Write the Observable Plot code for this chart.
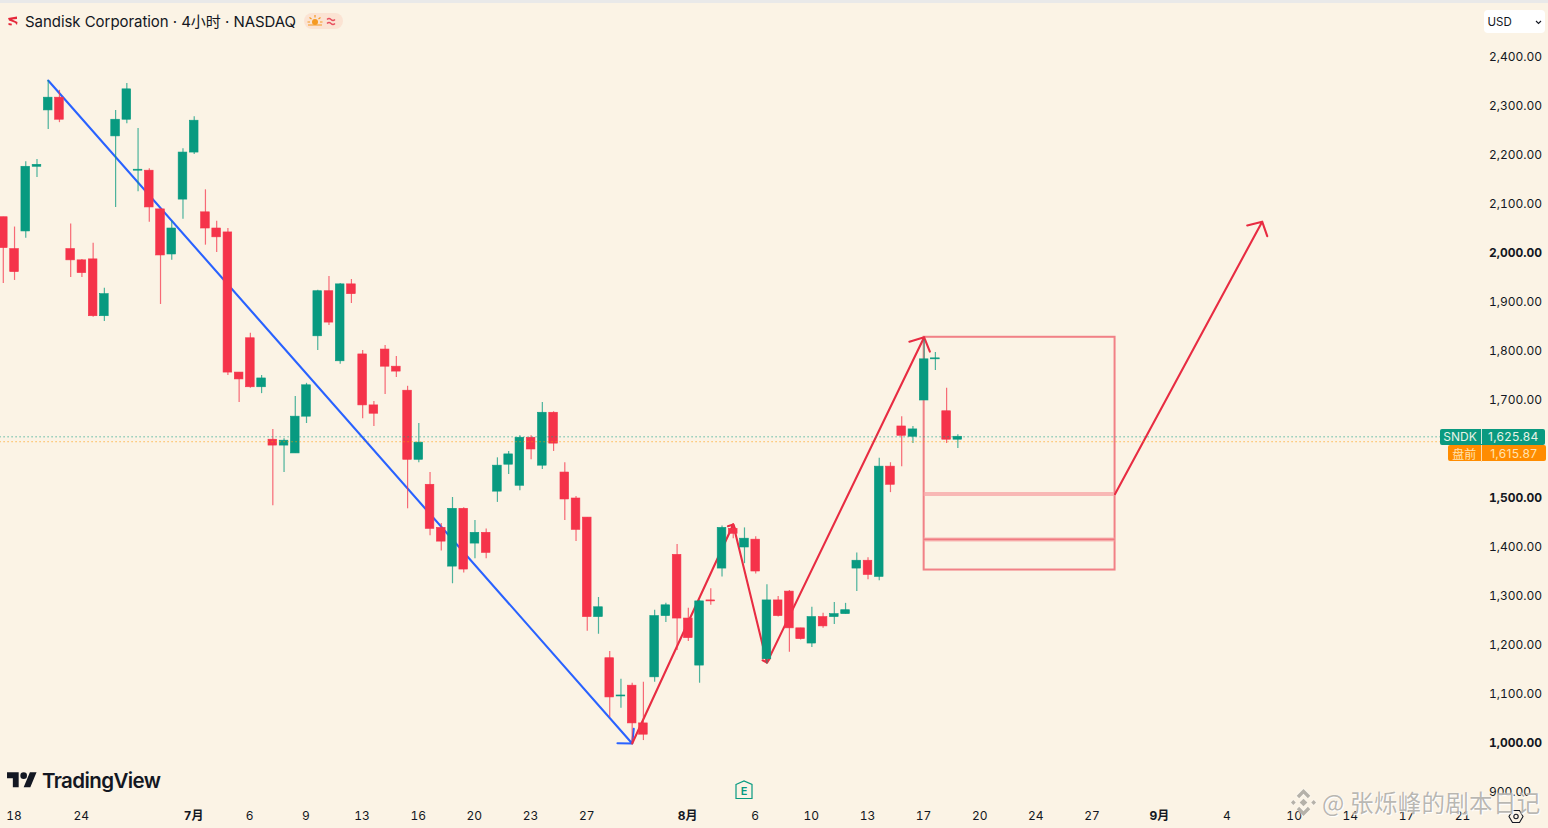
<!DOCTYPE html>
<html>
<head>
<meta charset="utf-8">
<script src="https://cdn.jsdelivr.net/npm/d3@7"></script>
<script src="https://cdn.jsdelivr.net/npm/@observablehq/plot@0.6"></script>
<style>
html,body{margin:0;padding:0;background:#fbf3e5;overflow:hidden;width:1548px;height:828px}
#wrap{position:relative;width:1548px;height:828px;font-family:Inter,"Noto Sans CJK SC",sans-serif;color:#131722}
#wrap>*{position:absolute}
.tag{display:flex;align-items:center;font-size:12px;height:16px;border-radius:2px;box-sizing:border-box}
.tag span{display:block;text-align:center}
</style>
</head>
<body>
<div id="wrap"></div>
<script>
const opens = [2074,2009,2045,2177,2292,2318,2009,1986,1988,1872,2239,2273,2169,2169,2090,1998,2110,2206,2084,2051,2043,1757,1827,1727,1620,1608,1592,1667,1831,1923,1780,1937,1794,1690,1804,1769,1720,1579,1528,1440,1361,1479,1408,1430,1514,1569,1526,1624,1567,1675,1553,1500,1461,1258,1174,1096,1118,1041,1135,1260,1385,1255,1159,1292,1357,1438,1400,1416,1172,1292,1310,1235,1204,1258,1258,1264,1357,1373,1340,1565,1647,1626,1700,1784,1678,1620];
const closes = [2011,1962,2177,2181,2318,2273,1986,1960,1872,1917,2273,2335,2171,2094,1996,2051,2206,2271,2051,2033,1757,1743,1727,1745,1608,1618,1667,1731,1923,1859,1937,1917,1690,1673,1769,1759,1579,1614,1438,1412,1479,1355,1430,1389,1567,1590,1624,1600,1675,1612,1498,1436,1258,1278,1094,1098,1041,1018,1260,1282,1255,1215,1290,1290,1440,1428,1418,1351,1292,1260,1235,1213,1258,1239,1264,1272,1373,1344,1565,1528,1628,1641,1784,1786,1620,1626];
const highs = [2074,2054,2187,2192,2353,2333,2060,1988,2021,1929,2292,2347,2255,2173,2092,2066,2214,2279,2130,2066,2051,1757,1837,1751,1641,1622,1708,1735,1925,1953,1939,1947,1802,1698,1812,1790,1729,1653,1553,1449,1502,1481,1455,1438,1583,1596,1628,1628,1696,1677,1573,1504,1461,1298,1188,1131,1123,1125,1272,1286,1406,1276,1292,1316,1444,1449,1440,1422,1324,1300,1312,1235,1278,1266,1288,1286,1389,1379,1582,1573,1667,1647,1823,1798,1725,1630];
const lows = [1939,1945,2031,2155,2253,2267,1951,1951,1870,1861,2094,2265,2126,2064,1896,1986,2070,2202,2017,2002,1751,1696,1725,1714,1485,1553,1592,1653,1802,1853,1774,1898,1663,1647,1712,1747,1479,1573,1424,1393,1326,1348,1377,1377,1492,1549,1516,1579,1559,1596,1455,1412,1229,1223,1053,1072,1000,1006,1125,1247,1190,1208,1123,1282,1340,1418,1367,1346,1163,1258,1186,1211,1196,1235,1243,1264,1310,1334,1332,1512,1565,1612,1700,1761,1612,1602];

const priceTicks = [2400,2300,2200,2100,1900,1800,1700,1400,1300,1200,1100,900];
const priceTicksBold = [2000,1500,1000];
const dayTickBars = [1,7,22,27,32,37,42,47,52,67,72,77,82,87,92,97,109,115,120,125,130];
const dayTickNames = ["18","24","6","9","13","16","20","23","27","6","10","13","17","20","24","27","4","10","14","17","21"];
const monthTickBars = [17,61,103];
const monthTickNames = ["7月","8月","9月"];

const blueArrow = {x1:4,y1:2353,x2:56,y2:1000};
const redArrows = [
  {x1:56,y1:1000,x2:65,y2:1447,head:4},
  {x1:65,y1:1447,x2:68,y2:1165,head:3.5},
  {x1:68,y1:1165,x2:82,y2:1829,head:11},
  {x1:99,y1:1509,x2:112.1,y2:2065,head:11}
];
const zone = {x1:82,x2:99,top:1829,bottom:1354};
const zoneLines = [1509,1416.5];
const lastPrice = 1625.84, prePrice = 1615.87;
const priceLineEnd = 128;

const candles = opens.map((o,i)=>({i,o,c:closes[i],h:highs[i],l:lows[i],up:closes[i]>=o}));
const GREEN="#089a80", RED="#f5334a", ZONE="#ee5a66";
const col = d=>d.up?GREEN:RED;
const dayLabel = new Map(dayTickBars.map((b,k)=>[b,dayTickNames[k]]));
const monthLabel = new Map(monthTickBars.map((b,k)=>[b,monthTickNames[k]]));
const fmt = d3.format(",.2f");

const chart = Plot.plot({
  width:1548,height:828,
  marginLeft:0,marginTop:0,marginRight:59.5,marginBottom:20,
  style:{background:"transparent",fontFamily:'Inter,"Noto Sans CJK SC",sans-serif',fontSize:"12px",color:"#131722"},
  x:{domain:[0,85],range:[2.8,957.35],label:null},
  y:{domain:[1000,2400],range:[743,57],label:null},
  marks:[
    Plot.rect([zone],{x1:"x1",x2:"x2",y1:"bottom",y2:"top",fill:"none",stroke:ZONE,strokeWidth:2,strokeOpacity:.75}),
    Plot.ruleY(zoneLines,{x1:zone.x1,x2:zone.x2,stroke:"#f8a9a9",strokeWidth:4,strokeOpacity:.8}),
    Plot.ruleY([zoneLines[1]],{x1:zone.x1,x2:zone.x2,stroke:"#ee6a74",strokeWidth:1.8,strokeOpacity:.8}),
    Plot.arrow([blueArrow],{x1:"x1",y1:"y1",x2:"x2",y2:"y2",stroke:"#2962ff",strokeWidth:2.1,headLength:10.5,headAngle:95,inset:0}),
    ...redArrows.map(a=>Plot.arrow([a],{x1:"x1",y1:"y1",x2:"x2",y2:"y2",stroke:"#e82c42",strokeWidth:2.1,headLength:a.head,headAngle:95,inset:0})),
    Plot.ruleX(candles,{x:"i",y1:"l",y2:"h",stroke:col,strokeWidth:1.2,strokeOpacity:.72}),
    Plot.rect(candles,{x1:d=>d.i-.385,x2:d=>d.i+.385,y1:d=>Math.min(d.o,d.c),y2:d=>Math.max(d.o,d.c),fill:col,stroke:col,strokeWidth:.6}),
    Plot.ruleY([lastPrice],{x1:-1,x2:priceLineEnd,stroke:GREEN,strokeWidth:1,strokeDasharray:"1,3"}),
    Plot.ruleY([prePrice],{x1:-1,x2:priceLineEnd,stroke:"#ff9800",strokeWidth:1,strokeDasharray:"1,3"}),
    Plot.axisY(priceTicks,{anchor:"right",tickSize:0,tickPadding:0,tickFormat:fmt,label:null,dy:-.5,fontSize:12,fill:"#131722"}),
    Plot.axisY(priceTicksBold,{anchor:"right",tickSize:0,tickPadding:0,tickFormat:fmt,label:null,dy:-.5,fontSize:12,fontWeight:700,fill:"#131722"}),
    Plot.axisX(dayTickBars,{anchor:"bottom",tickSize:0,tickPadding:3,dx:-.6,tickFormat:d=>dayLabel.get(d),label:null,fontSize:12,fill:"#131722"}),
    Plot.axisX(monthTickBars,{anchor:"bottom",tickSize:0,tickPadding:3,dx:-.6,tickFormat:d=>monthLabel.get(d),label:null,fontSize:12,fontWeight:700,fill:"#131722"})
  ]
});
chart.style.left="0";chart.style.top="0";
const wrap=document.getElementById("wrap");
wrap.appendChild(chart);

wrap.insertAdjacentHTML("beforeend",`
<div style="left:0;top:0;width:1548px;height:3px;background:#e9e9e9"></div>
<svg style="left:7px;top:15px" width="12" height="12" viewBox="0 0 12 12"><path d="M1 3 L10 1.5 L10 4 L5 4.5 L10.5 7 L10 10 L8 7.8 L2 5.5Z M1.5 8 L5 8.8 L4.5 10.5 L1.5 10Z" fill="#e5283a"/></svg>
<div style="left:25px;top:12.5px;font-size:15px;line-height:18px;white-space:nowrap;letter-spacing:-.05px">Sandisk Corporation · 4小时 · NASDAQ</div>
<div style="left:304px;top:13px;width:39px;height:16px;border-radius:8px;background:#fbe3d3"></div>
<svg style="left:307px;top:14px" width="34" height="14" viewBox="0 0 34 14"><circle cx="8" cy="8" r="3" fill="#f59a23"/><path d="M1 11H15M8 1V3.5M2.5 3.5L4.5 5M13.5 3.5L11.5 5M0.5 8H3M13 8H15.5" stroke="#f59a23" stroke-width="1.2"/><path d="M20 5.5q2-2 4 0t4 0M20 9.5q2-2 4 0t4 0" fill="none" stroke="#e8505f" stroke-width="1.4"/></svg>
<div style="left:1484px;top:10px;width:61px;height:23px;background:#fff;border-radius:4px"></div>
<div style="left:1487.5px;top:15.5px;font-size:11.5px;line-height:13px">USD</div>
<svg style="left:1535px;top:20px" width="7" height="5" viewBox="0 0 7 5"><path d="M1 1L3.5 3.5L6 1" fill="none" stroke="#131722" stroke-width="1.1"/></svg>

<div class="tag" style="left:1439.5px;top:428.5px;width:105.5px;background:#0a9a80;color:#e6f3e6"><span style="width:41px;border-right:1px solid #cfe9dc">SNDK</span><span style="flex:1;letter-spacing:.3px">1,625.84</span></div>
<div class="tag" style="left:1448px;top:445px;width:98px;background:#ff8c00;color:#ffe3b0"><span style="width:32.5px;border-right:1px solid #ffd9a8">盘前</span><span style="flex:1;letter-spacing:.3px">1,615.87</span></div>

<svg style="left:7px;top:769px" width="30" height="23.3" viewBox="0 0 36 28"><path d="M14 22H7V11H0V4h14v18zM28 22h-8l7.5-18h8L28 22z" fill="#131722"/><circle cx="20" cy="8" r="4" fill="#131722"/></svg>
<div style="left:42px;top:768px;font-size:20.5px;line-height:26px;font-weight:600;letter-spacing:-.6px;color:#131722">TradingView</div>

<svg style="left:734px;top:780px" width="20" height="20" viewBox="0 0 20 20"><path d="M2 4.5 L10 1 L18 4.5 V18.5 H2Z" fill="none" stroke="#089a80" stroke-width="1.2"/><text x="10" y="15" text-anchor="middle" font-size="11" font-weight="600" fill="#089a80" font-family="Inter">E</text></svg>
<svg style="left:1508px;top:809px" width="16" height="15" viewBox="0 0 16 15"><path d="M4.5 1.5H11.5L15 7.5L11.5 13.5H4.5L1 7.5Z" fill="none" stroke="#131722" stroke-width="1.1"/><circle cx="8" cy="7.5" r="2.2" fill="none" stroke="#131722" stroke-width="1.1"/></svg>

<svg style="left:1289px;top:788px" width="29" height="29" viewBox="0 0 30 30"><g fill="#b5b1a9" style="filter:drop-shadow(0 0 1px #fff)"><path d="M15 1L22 8L19.5 10.5L15 6L10.5 10.5L8 8Z"/><path d="M15 29L22 22L19.5 19.5L15 24L10.5 19.5L8 22Z"/><path d="M15 11L19 15L15 19L11 15Z"/><path d="M4.5 12.5L7 15L4.5 17.5L2 15Z"/><path d="M25.5 12.5L28 15L25.5 17.5L23 15Z"/></g></svg>
<div style="left:1322px;top:786.5px;font-family:'Noto Sans CJK SC';font-size:23.5px;line-height:30px;white-space:nowrap;color:rgba(125,122,115,.55);text-shadow:0 0 1.5px #fff,1px 1px 1px #fff;letter-spacing:.3px">@ 张烁峰的剧本日记</div>
`);
</script>
</body>
</html>
